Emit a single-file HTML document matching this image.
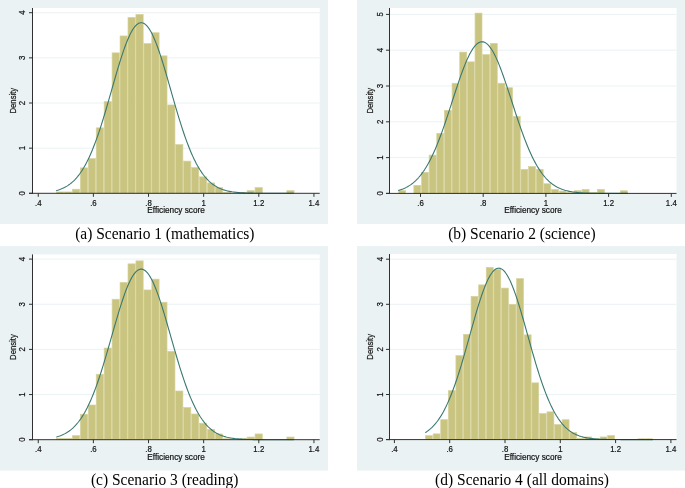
<!DOCTYPE html>
<html><head><meta charset="utf-8"><title>Efficiency score histograms</title>
<style>
html,body{margin:0;padding:0;background:#fff;}
body{width:685px;height:488px;overflow:hidden;}
svg{display:block;}
.tl{font-family:"Liberation Sans",Arial,sans-serif;font-size:8.8px;fill:#111;stroke:#111;stroke-width:0.2px;}
.at{font-family:"Liberation Sans",Arial,sans-serif;font-size:8.25px;fill:#111;stroke:#111;stroke-width:0.2px;}
.cap{font-family:"Liberation Serif","Times New Roman",serif;font-size:15.5px;fill:#000;}
</style></head><body>
<svg width="685" height="488" viewBox="0 0 685 488">
<rect x="0" y="0" width="685" height="488" fill="#fff"/>
<rect x="0" y="0" width="328" height="224" fill="#EAF2F3"/>
<rect x="32.5" y="8" width="287.2" height="185.3" fill="#fff"/>
<line x1="32.5" y1="148.15" x2="319.7" y2="148.15" stroke="#EAF2F3" stroke-width="1"/>
<line x1="32.5" y1="103.00" x2="319.7" y2="103.00" stroke="#EAF2F3" stroke-width="1"/>
<line x1="32.5" y1="57.85" x2="319.7" y2="57.85" stroke="#EAF2F3" stroke-width="1"/>
<line x1="32.5" y1="12.70" x2="319.7" y2="12.70" stroke="#EAF2F3" stroke-width="1"/>
<rect x="56.55" y="191.95" width="7.24" height="1.35" fill="#C9C47F" stroke="#D6D39E" stroke-width="0.7"/>
<rect x="64.49" y="191.95" width="7.24" height="1.35" fill="#C9C47F" stroke="#D6D39E" stroke-width="0.7"/>
<rect x="72.43" y="189.25" width="7.24" height="4.05" fill="#C9C47F" stroke="#D6D39E" stroke-width="0.7"/>
<rect x="80.37" y="167.85" width="7.24" height="25.45" fill="#C9C47F" stroke="#D6D39E" stroke-width="0.7"/>
<rect x="88.31" y="158.60" width="7.24" height="34.70" fill="#C9C47F" stroke="#D6D39E" stroke-width="0.7"/>
<rect x="96.25" y="127.85" width="7.24" height="65.45" fill="#C9C47F" stroke="#D6D39E" stroke-width="0.7"/>
<rect x="104.19" y="101.65" width="7.24" height="91.65" fill="#C9C47F" stroke="#D6D39E" stroke-width="0.7"/>
<rect x="112.13" y="52.85" width="7.24" height="140.45" fill="#C9C47F" stroke="#D6D39E" stroke-width="0.7"/>
<rect x="120.07" y="35.95" width="7.24" height="157.35" fill="#C9C47F" stroke="#D6D39E" stroke-width="0.7"/>
<rect x="128.01" y="17.45" width="7.24" height="175.85" fill="#C9C47F" stroke="#D6D39E" stroke-width="0.7"/>
<rect x="135.95" y="14.45" width="7.24" height="178.85" fill="#C9C47F" stroke="#D6D39E" stroke-width="0.7"/>
<rect x="143.89" y="43.55" width="7.24" height="149.75" fill="#C9C47F" stroke="#D6D39E" stroke-width="0.7"/>
<rect x="151.83" y="32.75" width="7.24" height="160.55" fill="#C9C47F" stroke="#D6D39E" stroke-width="0.7"/>
<rect x="159.77" y="55.85" width="7.24" height="137.45" fill="#C9C47F" stroke="#D6D39E" stroke-width="0.7"/>
<rect x="167.71" y="104.95" width="7.24" height="88.35" fill="#C9C47F" stroke="#D6D39E" stroke-width="0.7"/>
<rect x="175.65" y="144.60" width="7.24" height="48.70" fill="#C9C47F" stroke="#D6D39E" stroke-width="0.7"/>
<rect x="183.59" y="161.10" width="7.24" height="32.20" fill="#C9C47F" stroke="#D6D39E" stroke-width="0.7"/>
<rect x="191.53" y="167.60" width="7.24" height="25.70" fill="#C9C47F" stroke="#D6D39E" stroke-width="0.7"/>
<rect x="199.47" y="176.85" width="7.24" height="16.45" fill="#C9C47F" stroke="#D6D39E" stroke-width="0.7"/>
<rect x="207.41" y="182.95" width="7.24" height="10.35" fill="#C9C47F" stroke="#D6D39E" stroke-width="0.7"/>
<rect x="215.35" y="187.55" width="7.24" height="5.75" fill="#C9C47F" stroke="#D6D39E" stroke-width="0.7"/>
<rect x="223.29" y="192.35" width="7.24" height="0.95" fill="#C9C47F" stroke="#D6D39E" stroke-width="0.7"/>
<rect x="239.17" y="192.35" width="7.24" height="0.95" fill="#C9C47F" stroke="#D6D39E" stroke-width="0.7"/>
<rect x="247.11" y="190.65" width="7.24" height="2.65" fill="#C9C47F" stroke="#D6D39E" stroke-width="0.7"/>
<rect x="255.05" y="187.55" width="7.24" height="5.75" fill="#C9C47F" stroke="#D6D39E" stroke-width="0.7"/>
<rect x="286.81" y="190.65" width="7.24" height="2.65" fill="#C9C47F" stroke="#D6D39E" stroke-width="0.7"/>
<polyline points="56.20,190.61 57.39,190.29 58.58,189.92 59.76,189.52 60.95,189.08 62.14,188.60 63.33,188.07 64.52,187.48 65.70,186.85 66.89,186.15 68.08,185.40 69.27,184.57 70.46,183.68 71.64,182.71 72.83,181.67 74.02,180.54 75.21,179.33 76.40,178.02 77.58,176.62 78.77,175.12 79.96,173.52 81.15,171.81 82.34,170.00 83.52,168.07 84.71,166.02 85.90,163.86 87.09,161.58 88.28,159.17 89.46,156.65 90.65,154.00 91.84,151.22 93.03,148.33 94.22,145.31 95.40,142.17 96.59,138.92 97.78,135.55 98.97,132.07 100.16,128.49 101.34,124.81 102.53,121.04 103.72,117.19 104.91,113.26 106.10,109.26 107.28,105.20 108.47,101.10 109.66,96.97 110.85,92.81 112.04,88.65 113.22,84.49 114.41,80.34 115.60,76.23 116.79,72.16 117.98,68.16 119.16,64.23 120.35,60.40 121.54,56.67 122.73,53.07 123.92,49.61 125.10,46.29 126.29,43.15 127.48,40.19 128.67,37.42 129.86,34.86 131.04,32.52 132.23,30.40 133.42,28.53 134.61,26.91 135.80,25.54 136.98,24.43 138.17,23.60 139.36,23.03 140.55,22.74 141.74,22.73 142.92,22.99 144.11,23.53 145.30,24.34 146.49,25.42 147.68,26.76 148.86,28.36 150.05,30.21 151.24,32.30 152.43,34.62 153.62,37.16 154.80,39.91 155.99,42.85 157.18,45.98 158.37,49.28 159.56,52.73 160.74,56.32 161.93,60.03 163.12,63.85 164.31,67.77 165.50,71.77 166.68,75.83 167.87,79.94 169.06,84.08 170.25,88.24 171.44,92.41 172.62,96.57 173.81,100.70 175.00,104.81 176.19,108.86 177.38,112.87 178.56,116.81 179.75,120.67 180.94,124.45 182.13,128.14 183.32,131.73 184.50,135.21 185.69,138.59 186.88,141.86 188.07,145.01 189.26,148.04 190.44,150.95 191.63,153.73 192.82,156.39 194.01,158.93 195.20,161.35 196.38,163.64 197.57,165.82 198.76,167.87 199.95,169.81 201.14,171.64 202.32,173.36 203.51,174.97 204.70,176.48 205.89,177.89 207.08,179.20 208.26,180.43 209.45,181.56 210.64,182.61 211.83,183.59 213.02,184.49 214.20,185.32 215.39,186.08 216.58,186.78 217.77,187.42 218.96,188.01 220.14,188.55 221.33,189.04 222.52,189.48 223.71,189.89 224.90,190.25 226.08,190.58 227.27,190.88 228.46,191.15 229.65,191.39 230.84,191.61 232.02,191.81 233.21,191.98 234.40,192.14 235.59,192.28 236.78,192.40 237.96,192.51 239.15,192.61 240.34,192.70 241.53,192.77 242.72,192.84 243.90,192.90 245.09,192.95 246.28,193.00 247.47,193.04 248.66,193.08 249.84,193.11 251.03,193.13 252.22,193.16 253.41,193.18 254.60,193.19 255.78,193.21 256.97,193.22 258.16,193.23 259.35,193.24 260.54,193.25 261.72,193.26 262.91,193.27 264.10,193.27 265.29,193.28 266.48,193.28 267.66,193.28 268.85,193.29 270.04,193.29 271.23,193.29 272.42,193.29 273.60,193.29 274.79,193.29 275.98,193.29 277.17,193.30 278.36,193.30 279.54,193.30 280.73,193.30 281.92,193.30 283.11,193.30 284.30,193.30 285.48,193.30 286.67,193.30 287.86,193.30 289.05,193.30 290.24,193.30 291.42,193.30 292.61,193.30 293.80,193.30" fill="none" stroke="#3A7870" stroke-width="1.1" stroke-linejoin="round"/>
<line x1="32.5" y1="8" x2="32.5" y2="193.8" stroke="#303030" stroke-width="1"/>
<line x1="29.0" y1="193.3" x2="319.7" y2="193.3" stroke="#303030" stroke-width="1"/>
<line x1="29.0" y1="193.30" x2="32.5" y2="193.30" stroke="#303030" stroke-width="1"/>
<text transform="translate(25.3 193.30) rotate(-90) scale(0.89 1)" text-anchor="middle" class="tl">0</text>
<line x1="29.0" y1="148.15" x2="32.5" y2="148.15" stroke="#303030" stroke-width="1"/>
<text transform="translate(25.3 148.15) rotate(-90) scale(0.89 1)" text-anchor="middle" class="tl">1</text>
<line x1="29.0" y1="103.00" x2="32.5" y2="103.00" stroke="#303030" stroke-width="1"/>
<text transform="translate(25.3 103.00) rotate(-90) scale(0.89 1)" text-anchor="middle" class="tl">2</text>
<line x1="29.0" y1="57.85" x2="32.5" y2="57.85" stroke="#303030" stroke-width="1"/>
<text transform="translate(25.3 57.85) rotate(-90) scale(0.89 1)" text-anchor="middle" class="tl">3</text>
<line x1="29.0" y1="12.70" x2="32.5" y2="12.70" stroke="#303030" stroke-width="1"/>
<text transform="translate(25.3 12.70) rotate(-90) scale(0.89 1)" text-anchor="middle" class="tl">4</text>
<line x1="38.25" y1="193.3" x2="38.25" y2="196.8" stroke="#303030" stroke-width="1"/>
<text transform="translate(38.25 205.5) scale(0.89 1)" text-anchor="middle" class="tl">.4</text>
<line x1="93.39" y1="193.3" x2="93.39" y2="196.8" stroke="#303030" stroke-width="1"/>
<text transform="translate(93.39 205.5) scale(0.89 1)" text-anchor="middle" class="tl">.6</text>
<line x1="148.53" y1="193.3" x2="148.53" y2="196.8" stroke="#303030" stroke-width="1"/>
<text transform="translate(148.53 205.5) scale(0.89 1)" text-anchor="middle" class="tl">.8</text>
<line x1="203.67" y1="193.3" x2="203.67" y2="196.8" stroke="#303030" stroke-width="1"/>
<text transform="translate(203.67 205.5) scale(0.89 1)" text-anchor="middle" class="tl">1</text>
<line x1="258.81" y1="193.3" x2="258.81" y2="196.8" stroke="#303030" stroke-width="1"/>
<text transform="translate(258.81 205.5) scale(0.89 1)" text-anchor="middle" class="tl">1.2</text>
<line x1="313.95" y1="193.3" x2="313.95" y2="196.8" stroke="#303030" stroke-width="1"/>
<text transform="translate(313.95 205.5) scale(0.89 1)" text-anchor="middle" class="tl">1.4</text>
<text x="176.10" y="213.2" text-anchor="middle" class="at">Efficiency score</text>
<text transform="translate(15.8 100.65) rotate(-90) scale(0.89 1)" text-anchor="middle" class="at" style="font-size:8.7px">Density</text>
<rect x="357" y="0" width="328" height="224" fill="#EAF2F3"/>
<rect x="389.5" y="8" width="287.0" height="185.4" fill="#fff"/>
<line x1="389.5" y1="157.60" x2="676.5" y2="157.60" stroke="#EAF2F3" stroke-width="1"/>
<line x1="389.5" y1="121.80" x2="676.5" y2="121.80" stroke="#EAF2F3" stroke-width="1"/>
<line x1="389.5" y1="86.00" x2="676.5" y2="86.00" stroke="#EAF2F3" stroke-width="1"/>
<line x1="389.5" y1="50.20" x2="676.5" y2="50.20" stroke="#EAF2F3" stroke-width="1"/>
<line x1="389.5" y1="14.40" x2="676.5" y2="14.40" stroke="#EAF2F3" stroke-width="1"/>
<rect x="398.56" y="190.60" width="6.95" height="2.80" fill="#C9C47F" stroke="#D6D39E" stroke-width="0.7"/>
<rect x="413.86" y="185.35" width="6.95" height="8.05" fill="#C9C47F" stroke="#D6D39E" stroke-width="0.7"/>
<rect x="421.50" y="172.35" width="6.95" height="21.05" fill="#C9C47F" stroke="#D6D39E" stroke-width="0.7"/>
<rect x="429.15" y="155.10" width="6.95" height="38.30" fill="#C9C47F" stroke="#D6D39E" stroke-width="0.7"/>
<rect x="436.80" y="133.35" width="6.95" height="60.05" fill="#C9C47F" stroke="#D6D39E" stroke-width="0.7"/>
<rect x="444.45" y="110.35" width="6.95" height="83.05" fill="#C9C47F" stroke="#D6D39E" stroke-width="0.7"/>
<rect x="452.10" y="83.25" width="6.95" height="110.15" fill="#C9C47F" stroke="#D6D39E" stroke-width="0.7"/>
<rect x="459.74" y="52.10" width="6.95" height="141.30" fill="#C9C47F" stroke="#D6D39E" stroke-width="0.7"/>
<rect x="467.39" y="61.85" width="6.95" height="131.55" fill="#C9C47F" stroke="#D6D39E" stroke-width="0.7"/>
<rect x="475.04" y="13.10" width="6.95" height="180.30" fill="#C9C47F" stroke="#D6D39E" stroke-width="0.7"/>
<rect x="482.69" y="54.60" width="6.95" height="138.80" fill="#C9C47F" stroke="#D6D39E" stroke-width="0.7"/>
<rect x="490.34" y="43.35" width="6.95" height="150.05" fill="#C9C47F" stroke="#D6D39E" stroke-width="0.7"/>
<rect x="497.98" y="83.25" width="6.95" height="110.15" fill="#C9C47F" stroke="#D6D39E" stroke-width="0.7"/>
<rect x="505.63" y="87.75" width="6.95" height="105.65" fill="#C9C47F" stroke="#D6D39E" stroke-width="0.7"/>
<rect x="513.28" y="116.45" width="6.95" height="76.95" fill="#C9C47F" stroke="#D6D39E" stroke-width="0.7"/>
<rect x="520.93" y="169.35" width="6.95" height="24.05" fill="#C9C47F" stroke="#D6D39E" stroke-width="0.7"/>
<rect x="528.58" y="166.60" width="6.95" height="26.80" fill="#C9C47F" stroke="#D6D39E" stroke-width="0.7"/>
<rect x="536.22" y="169.35" width="6.95" height="24.05" fill="#C9C47F" stroke="#D6D39E" stroke-width="0.7"/>
<rect x="543.87" y="183.75" width="6.95" height="9.65" fill="#C9C47F" stroke="#D6D39E" stroke-width="0.7"/>
<rect x="551.52" y="189.45" width="6.95" height="3.95" fill="#C9C47F" stroke="#D6D39E" stroke-width="0.7"/>
<rect x="559.17" y="191.05" width="6.95" height="2.35" fill="#C9C47F" stroke="#D6D39E" stroke-width="0.7"/>
<rect x="566.82" y="192.55" width="6.95" height="0.85" fill="#C9C47F" stroke="#D6D39E" stroke-width="0.7"/>
<rect x="574.46" y="190.65" width="6.95" height="2.75" fill="#C9C47F" stroke="#D6D39E" stroke-width="0.7"/>
<rect x="582.11" y="189.45" width="6.95" height="3.95" fill="#C9C47F" stroke="#D6D39E" stroke-width="0.7"/>
<rect x="589.76" y="192.45" width="6.95" height="0.95" fill="#C9C47F" stroke="#D6D39E" stroke-width="0.7"/>
<rect x="597.41" y="189.45" width="6.95" height="3.95" fill="#C9C47F" stroke="#D6D39E" stroke-width="0.7"/>
<rect x="620.35" y="190.75" width="6.95" height="2.65" fill="#C9C47F" stroke="#D6D39E" stroke-width="0.7"/>
<polyline points="398.25,190.48 399.40,190.15 400.55,189.78 401.70,189.38 402.85,188.95 403.99,188.47 405.14,187.95 406.29,187.38 407.44,186.77 408.59,186.10 409.74,185.38 410.89,184.60 412.04,183.76 413.18,182.86 414.33,181.89 415.48,180.84 416.63,179.72 417.78,178.53 418.93,177.25 420.08,175.89 421.23,174.45 422.37,172.91 423.52,171.29 424.67,169.57 425.82,167.75 426.97,165.84 428.12,163.83 429.27,161.71 430.42,159.50 431.56,157.19 432.71,154.78 433.86,152.27 435.01,149.66 436.16,146.95 437.31,144.15 438.46,141.26 439.61,138.27 440.75,135.21 441.90,132.07 443.05,128.85 444.20,125.56 445.35,122.22 446.50,118.82 447.65,115.37 448.80,111.89 449.94,108.37 451.09,104.84 452.24,101.29 453.39,97.75 454.54,94.22 455.69,90.71 456.84,87.23 457.99,83.80 459.13,80.42 460.28,77.12 461.43,73.89 462.58,70.76 463.73,67.74 464.88,64.83 466.03,62.04 467.18,59.40 468.32,56.91 469.47,54.58 470.62,52.41 471.77,50.43 472.92,48.63 474.07,47.03 475.22,45.63 476.37,44.44 477.51,43.46 478.66,42.70 479.81,42.16 480.96,41.84 482.11,41.75 483.26,41.88 484.41,42.24 485.56,42.83 486.70,43.63 487.85,44.65 489.00,45.88 490.15,47.32 491.30,48.96 492.45,50.79 493.60,52.81 494.75,55.00 495.89,57.37 497.04,59.89 498.19,62.56 499.34,65.37 500.49,68.30 501.64,71.35 502.79,74.50 503.94,77.74 505.08,81.06 506.23,84.44 507.38,87.88 508.53,91.37 509.68,94.88 510.83,98.42 511.98,101.96 513.12,105.51 514.27,109.04 515.42,112.55 516.57,116.03 517.72,119.47 518.87,122.86 520.02,126.19 521.17,129.46 522.32,132.67 523.46,135.80 524.61,138.85 525.76,141.81 526.91,144.69 528.06,147.47 529.21,150.16 530.36,152.75 531.50,155.24 532.65,157.64 533.80,159.93 534.95,162.12 536.10,164.21 537.25,166.21 538.40,168.10 539.55,169.90 540.69,171.60 541.84,173.21 542.99,174.73 544.14,176.16 545.29,177.50 546.44,178.76 547.59,179.94 548.74,181.05 549.88,182.08 551.03,183.04 552.18,183.93 553.33,184.76 554.48,185.52 555.63,186.23 556.78,186.89 557.93,187.50 559.08,188.05 560.22,188.56 561.37,189.03 562.52,189.46 563.67,189.85 564.82,190.21 565.97,190.54 567.12,190.83 568.26,191.10 569.41,191.35 570.56,191.57 571.71,191.77 572.86,191.95 574.01,192.11 575.16,192.26 576.31,192.39 577.46,192.50 578.60,192.61 579.75,192.70 580.90,192.78 582.05,192.86 583.20,192.93 584.35,192.98 585.50,193.04 586.64,193.08 587.79,193.12 588.94,193.16 590.09,193.19 591.24,193.22 592.39,193.24 593.54,193.26 594.69,193.28 595.84,193.30 596.98,193.31 598.13,193.32 599.28,193.33 600.43,193.34 601.58,193.35 602.73,193.36 603.88,193.36 605.02,193.37 606.17,193.37 607.32,193.38 608.47,193.38 609.62,193.38 610.77,193.39 611.92,193.39 613.07,193.39 614.22,193.39 615.36,193.39 616.51,193.39 617.66,193.40 618.81,193.40 619.96,193.40 621.11,193.40 622.26,193.40 623.40,193.40 624.55,193.40 625.70,193.40 626.85,193.40 628.00,193.40" fill="none" stroke="#3A7870" stroke-width="1.1" stroke-linejoin="round"/>
<line x1="389.5" y1="8" x2="389.5" y2="193.9" stroke="#303030" stroke-width="1"/>
<line x1="386.0" y1="193.4" x2="676.5" y2="193.4" stroke="#303030" stroke-width="1"/>
<line x1="386.0" y1="193.40" x2="389.5" y2="193.40" stroke="#303030" stroke-width="1"/>
<text transform="translate(382.6 193.40) rotate(-90) scale(0.89 1)" text-anchor="middle" class="tl">0</text>
<line x1="386.0" y1="157.60" x2="389.5" y2="157.60" stroke="#303030" stroke-width="1"/>
<text transform="translate(382.6 157.60) rotate(-90) scale(0.89 1)" text-anchor="middle" class="tl">1</text>
<line x1="386.0" y1="121.80" x2="389.5" y2="121.80" stroke="#303030" stroke-width="1"/>
<text transform="translate(382.6 121.80) rotate(-90) scale(0.89 1)" text-anchor="middle" class="tl">2</text>
<line x1="386.0" y1="86.00" x2="389.5" y2="86.00" stroke="#303030" stroke-width="1"/>
<text transform="translate(382.6 86.00) rotate(-90) scale(0.89 1)" text-anchor="middle" class="tl">3</text>
<line x1="386.0" y1="50.20" x2="389.5" y2="50.20" stroke="#303030" stroke-width="1"/>
<text transform="translate(382.6 50.20) rotate(-90) scale(0.89 1)" text-anchor="middle" class="tl">4</text>
<line x1="386.0" y1="14.40" x2="389.5" y2="14.40" stroke="#303030" stroke-width="1"/>
<text transform="translate(382.6 14.40) rotate(-90) scale(0.89 1)" text-anchor="middle" class="tl">5</text>
<line x1="420.50" y1="193.4" x2="420.50" y2="196.9" stroke="#303030" stroke-width="1"/>
<text transform="translate(420.50 205.5) scale(0.89 1)" text-anchor="middle" class="tl">.6</text>
<line x1="483.20" y1="193.4" x2="483.20" y2="196.9" stroke="#303030" stroke-width="1"/>
<text transform="translate(483.20 205.5) scale(0.89 1)" text-anchor="middle" class="tl">.8</text>
<line x1="545.90" y1="193.4" x2="545.90" y2="196.9" stroke="#303030" stroke-width="1"/>
<text transform="translate(545.90 205.5) scale(0.89 1)" text-anchor="middle" class="tl">1</text>
<line x1="608.60" y1="193.4" x2="608.60" y2="196.9" stroke="#303030" stroke-width="1"/>
<text transform="translate(608.60 205.5) scale(0.89 1)" text-anchor="middle" class="tl">1.2</text>
<line x1="671.30" y1="193.4" x2="671.30" y2="196.9" stroke="#303030" stroke-width="1"/>
<text transform="translate(671.30 205.5) scale(0.89 1)" text-anchor="middle" class="tl">1.4</text>
<text x="533.00" y="213.2" text-anchor="middle" class="at">Efficiency score</text>
<text transform="translate(372.8 100.70) rotate(-90) scale(0.89 1)" text-anchor="middle" class="at" style="font-size:8.7px">Density</text>
<rect x="0" y="246.0" width="328" height="224.5" fill="#EAF2F3"/>
<rect x="32.5" y="254.4" width="287.2" height="185.3" fill="#fff"/>
<line x1="32.5" y1="394.55" x2="319.7" y2="394.55" stroke="#EAF2F3" stroke-width="1"/>
<line x1="32.5" y1="349.40" x2="319.7" y2="349.40" stroke="#EAF2F3" stroke-width="1"/>
<line x1="32.5" y1="304.25" x2="319.7" y2="304.25" stroke="#EAF2F3" stroke-width="1"/>
<line x1="32.5" y1="259.10" x2="319.7" y2="259.10" stroke="#EAF2F3" stroke-width="1"/>
<rect x="56.55" y="438.35" width="7.24" height="1.35" fill="#C9C47F" stroke="#D6D39E" stroke-width="0.7"/>
<rect x="64.49" y="438.35" width="7.24" height="1.35" fill="#C9C47F" stroke="#D6D39E" stroke-width="0.7"/>
<rect x="72.43" y="435.65" width="7.24" height="4.05" fill="#C9C47F" stroke="#D6D39E" stroke-width="0.7"/>
<rect x="80.37" y="414.25" width="7.24" height="25.45" fill="#C9C47F" stroke="#D6D39E" stroke-width="0.7"/>
<rect x="88.31" y="405.00" width="7.24" height="34.70" fill="#C9C47F" stroke="#D6D39E" stroke-width="0.7"/>
<rect x="96.25" y="374.25" width="7.24" height="65.45" fill="#C9C47F" stroke="#D6D39E" stroke-width="0.7"/>
<rect x="104.19" y="348.05" width="7.24" height="91.65" fill="#C9C47F" stroke="#D6D39E" stroke-width="0.7"/>
<rect x="112.13" y="299.25" width="7.24" height="140.45" fill="#C9C47F" stroke="#D6D39E" stroke-width="0.7"/>
<rect x="120.07" y="282.35" width="7.24" height="157.35" fill="#C9C47F" stroke="#D6D39E" stroke-width="0.7"/>
<rect x="128.01" y="263.85" width="7.24" height="175.85" fill="#C9C47F" stroke="#D6D39E" stroke-width="0.7"/>
<rect x="135.95" y="260.85" width="7.24" height="178.85" fill="#C9C47F" stroke="#D6D39E" stroke-width="0.7"/>
<rect x="143.89" y="289.95" width="7.24" height="149.75" fill="#C9C47F" stroke="#D6D39E" stroke-width="0.7"/>
<rect x="151.83" y="279.15" width="7.24" height="160.55" fill="#C9C47F" stroke="#D6D39E" stroke-width="0.7"/>
<rect x="159.77" y="302.25" width="7.24" height="137.45" fill="#C9C47F" stroke="#D6D39E" stroke-width="0.7"/>
<rect x="167.71" y="351.35" width="7.24" height="88.35" fill="#C9C47F" stroke="#D6D39E" stroke-width="0.7"/>
<rect x="175.65" y="391.00" width="7.24" height="48.70" fill="#C9C47F" stroke="#D6D39E" stroke-width="0.7"/>
<rect x="183.59" y="407.50" width="7.24" height="32.20" fill="#C9C47F" stroke="#D6D39E" stroke-width="0.7"/>
<rect x="191.53" y="414.00" width="7.24" height="25.70" fill="#C9C47F" stroke="#D6D39E" stroke-width="0.7"/>
<rect x="199.47" y="423.25" width="7.24" height="16.45" fill="#C9C47F" stroke="#D6D39E" stroke-width="0.7"/>
<rect x="207.41" y="429.35" width="7.24" height="10.35" fill="#C9C47F" stroke="#D6D39E" stroke-width="0.7"/>
<rect x="215.35" y="433.95" width="7.24" height="5.75" fill="#C9C47F" stroke="#D6D39E" stroke-width="0.7"/>
<rect x="223.29" y="438.75" width="7.24" height="0.95" fill="#C9C47F" stroke="#D6D39E" stroke-width="0.7"/>
<rect x="239.17" y="438.75" width="7.24" height="0.95" fill="#C9C47F" stroke="#D6D39E" stroke-width="0.7"/>
<rect x="247.11" y="437.05" width="7.24" height="2.65" fill="#C9C47F" stroke="#D6D39E" stroke-width="0.7"/>
<rect x="255.05" y="433.95" width="7.24" height="5.75" fill="#C9C47F" stroke="#D6D39E" stroke-width="0.7"/>
<rect x="286.81" y="437.05" width="7.24" height="2.65" fill="#C9C47F" stroke="#D6D39E" stroke-width="0.7"/>
<polyline points="56.20,437.01 57.39,436.69 58.58,436.32 59.76,435.92 60.95,435.48 62.14,435.00 63.33,434.47 64.52,433.88 65.70,433.25 66.89,432.55 68.08,431.80 69.27,430.97 70.46,430.08 71.64,429.11 72.83,428.07 74.02,426.94 75.21,425.73 76.40,424.42 77.58,423.02 78.77,421.52 79.96,419.92 81.15,418.21 82.34,416.40 83.52,414.47 84.71,412.42 85.90,410.26 87.09,407.98 88.28,405.57 89.46,403.05 90.65,400.40 91.84,397.62 93.03,394.73 94.22,391.71 95.40,388.57 96.59,385.32 97.78,381.95 98.97,378.47 100.16,374.89 101.34,371.21 102.53,367.44 103.72,363.59 104.91,359.66 106.10,355.66 107.28,351.60 108.47,347.50 109.66,343.37 110.85,339.21 112.04,335.05 113.22,330.89 114.41,326.74 115.60,322.63 116.79,318.56 117.98,314.56 119.16,310.63 120.35,306.80 121.54,303.07 122.73,299.47 123.92,296.01 125.10,292.69 126.29,289.55 127.48,286.59 128.67,283.82 129.86,281.26 131.04,278.92 132.23,276.80 133.42,274.93 134.61,273.31 135.80,271.94 136.98,270.83 138.17,270.00 139.36,269.43 140.55,269.14 141.74,269.13 142.92,269.39 144.11,269.93 145.30,270.74 146.49,271.82 147.68,273.16 148.86,274.76 150.05,276.61 151.24,278.70 152.43,281.02 153.62,283.56 154.80,286.31 155.99,289.25 157.18,292.38 158.37,295.68 159.56,299.13 160.74,302.72 161.93,306.43 163.12,310.25 164.31,314.17 165.50,318.17 166.68,322.23 167.87,326.34 169.06,330.48 170.25,334.64 171.44,338.81 172.62,342.97 173.81,347.10 175.00,351.21 176.19,355.26 177.38,359.27 178.56,363.21 179.75,367.07 180.94,370.85 182.13,374.54 183.32,378.13 184.50,381.61 185.69,384.99 186.88,388.26 188.07,391.41 189.26,394.44 190.44,397.35 191.63,400.13 192.82,402.79 194.01,405.33 195.20,407.75 196.38,410.04 197.57,412.22 198.76,414.27 199.95,416.21 201.14,418.04 202.32,419.76 203.51,421.37 204.70,422.88 205.89,424.29 207.08,425.60 208.26,426.83 209.45,427.96 210.64,429.01 211.83,429.99 213.02,430.89 214.20,431.72 215.39,432.48 216.58,433.18 217.77,433.82 218.96,434.41 220.14,434.95 221.33,435.44 222.52,435.88 223.71,436.29 224.90,436.65 226.08,436.98 227.27,437.28 228.46,437.55 229.65,437.79 230.84,438.01 232.02,438.21 233.21,438.38 234.40,438.54 235.59,438.68 236.78,438.80 237.96,438.91 239.15,439.01 240.34,439.10 241.53,439.17 242.72,439.24 243.90,439.30 245.09,439.35 246.28,439.40 247.47,439.44 248.66,439.48 249.84,439.51 251.03,439.53 252.22,439.56 253.41,439.58 254.60,439.59 255.78,439.61 256.97,439.62 258.16,439.63 259.35,439.64 260.54,439.65 261.72,439.66 262.91,439.67 264.10,439.67 265.29,439.68 266.48,439.68 267.66,439.68 268.85,439.69 270.04,439.69 271.23,439.69 272.42,439.69 273.60,439.69 274.79,439.69 275.98,439.69 277.17,439.70 278.36,439.70 279.54,439.70 280.73,439.70 281.92,439.70 283.11,439.70 284.30,439.70 285.48,439.70 286.67,439.70 287.86,439.70 289.05,439.70 290.24,439.70 291.42,439.70 292.61,439.70 293.80,439.70" fill="none" stroke="#3A7870" stroke-width="1.1" stroke-linejoin="round"/>
<line x1="32.5" y1="254.4" x2="32.5" y2="440.20000000000005" stroke="#303030" stroke-width="1"/>
<line x1="29.0" y1="439.70000000000005" x2="319.7" y2="439.70000000000005" stroke="#303030" stroke-width="1"/>
<line x1="29.0" y1="439.70" x2="32.5" y2="439.70" stroke="#303030" stroke-width="1"/>
<text transform="translate(25.3 439.70) rotate(-90) scale(0.89 1)" text-anchor="middle" class="tl">0</text>
<line x1="29.0" y1="394.55" x2="32.5" y2="394.55" stroke="#303030" stroke-width="1"/>
<text transform="translate(25.3 394.55) rotate(-90) scale(0.89 1)" text-anchor="middle" class="tl">1</text>
<line x1="29.0" y1="349.40" x2="32.5" y2="349.40" stroke="#303030" stroke-width="1"/>
<text transform="translate(25.3 349.40) rotate(-90) scale(0.89 1)" text-anchor="middle" class="tl">2</text>
<line x1="29.0" y1="304.25" x2="32.5" y2="304.25" stroke="#303030" stroke-width="1"/>
<text transform="translate(25.3 304.25) rotate(-90) scale(0.89 1)" text-anchor="middle" class="tl">3</text>
<line x1="29.0" y1="259.10" x2="32.5" y2="259.10" stroke="#303030" stroke-width="1"/>
<text transform="translate(25.3 259.10) rotate(-90) scale(0.89 1)" text-anchor="middle" class="tl">4</text>
<line x1="38.25" y1="439.70000000000005" x2="38.25" y2="443.20000000000005" stroke="#303030" stroke-width="1"/>
<text transform="translate(38.25 451.9) scale(0.89 1)" text-anchor="middle" class="tl">.4</text>
<line x1="93.39" y1="439.70000000000005" x2="93.39" y2="443.20000000000005" stroke="#303030" stroke-width="1"/>
<text transform="translate(93.39 451.9) scale(0.89 1)" text-anchor="middle" class="tl">.6</text>
<line x1="148.53" y1="439.70000000000005" x2="148.53" y2="443.20000000000005" stroke="#303030" stroke-width="1"/>
<text transform="translate(148.53 451.9) scale(0.89 1)" text-anchor="middle" class="tl">.8</text>
<line x1="203.67" y1="439.70000000000005" x2="203.67" y2="443.20000000000005" stroke="#303030" stroke-width="1"/>
<text transform="translate(203.67 451.9) scale(0.89 1)" text-anchor="middle" class="tl">1</text>
<line x1="258.81" y1="439.70000000000005" x2="258.81" y2="443.20000000000005" stroke="#303030" stroke-width="1"/>
<text transform="translate(258.81 451.9) scale(0.89 1)" text-anchor="middle" class="tl">1.2</text>
<line x1="313.95" y1="439.70000000000005" x2="313.95" y2="443.20000000000005" stroke="#303030" stroke-width="1"/>
<text transform="translate(313.95 451.9) scale(0.89 1)" text-anchor="middle" class="tl">1.4</text>
<text x="176.10" y="459.6" text-anchor="middle" class="at">Efficiency score</text>
<text transform="translate(15.8 347.05) rotate(-90) scale(0.89 1)" text-anchor="middle" class="at" style="font-size:8.7px">Density</text>
<rect x="357" y="246" width="328" height="224.5" fill="#EAF2F3"/>
<rect x="389.5" y="254" width="287.0" height="185.60000000000002" fill="#fff"/>
<line x1="389.5" y1="394.50" x2="676.5" y2="394.50" stroke="#EAF2F3" stroke-width="1"/>
<line x1="389.5" y1="349.40" x2="676.5" y2="349.40" stroke="#EAF2F3" stroke-width="1"/>
<line x1="389.5" y1="304.30" x2="676.5" y2="304.30" stroke="#EAF2F3" stroke-width="1"/>
<line x1="389.5" y1="259.20" x2="676.5" y2="259.20" stroke="#EAF2F3" stroke-width="1"/>
<rect x="425.55" y="435.65" width="6.89" height="3.95" fill="#C9C47F" stroke="#D6D39E" stroke-width="0.7"/>
<rect x="433.14" y="433.85" width="6.89" height="5.75" fill="#C9C47F" stroke="#D6D39E" stroke-width="0.7"/>
<rect x="440.73" y="419.65" width="6.89" height="19.95" fill="#C9C47F" stroke="#D6D39E" stroke-width="0.7"/>
<rect x="448.32" y="390.65" width="6.89" height="48.95" fill="#C9C47F" stroke="#D6D39E" stroke-width="0.7"/>
<rect x="455.91" y="355.60" width="6.89" height="84.00" fill="#C9C47F" stroke="#D6D39E" stroke-width="0.7"/>
<rect x="463.50" y="334.35" width="6.89" height="105.25" fill="#C9C47F" stroke="#D6D39E" stroke-width="0.7"/>
<rect x="471.09" y="296.35" width="6.89" height="143.25" fill="#C9C47F" stroke="#D6D39E" stroke-width="0.7"/>
<rect x="478.68" y="284.85" width="6.89" height="154.75" fill="#C9C47F" stroke="#D6D39E" stroke-width="0.7"/>
<rect x="486.27" y="267.35" width="6.89" height="172.25" fill="#C9C47F" stroke="#D6D39E" stroke-width="0.7"/>
<rect x="493.86" y="269.35" width="6.89" height="170.25" fill="#C9C47F" stroke="#D6D39E" stroke-width="0.7"/>
<rect x="501.45" y="288.10" width="6.89" height="151.50" fill="#C9C47F" stroke="#D6D39E" stroke-width="0.7"/>
<rect x="509.04" y="304.35" width="6.89" height="135.25" fill="#C9C47F" stroke="#D6D39E" stroke-width="0.7"/>
<rect x="516.63" y="278.65" width="6.89" height="160.95" fill="#C9C47F" stroke="#D6D39E" stroke-width="0.7"/>
<rect x="524.22" y="334.85" width="6.89" height="104.75" fill="#C9C47F" stroke="#D6D39E" stroke-width="0.7"/>
<rect x="531.81" y="382.85" width="6.89" height="56.75" fill="#C9C47F" stroke="#D6D39E" stroke-width="0.7"/>
<rect x="539.40" y="413.55" width="6.89" height="26.05" fill="#C9C47F" stroke="#D6D39E" stroke-width="0.7"/>
<rect x="546.99" y="411.85" width="6.89" height="27.75" fill="#C9C47F" stroke="#D6D39E" stroke-width="0.7"/>
<rect x="554.58" y="424.55" width="6.89" height="15.05" fill="#C9C47F" stroke="#D6D39E" stroke-width="0.7"/>
<rect x="562.17" y="419.75" width="6.89" height="19.85" fill="#C9C47F" stroke="#D6D39E" stroke-width="0.7"/>
<rect x="569.76" y="432.55" width="6.89" height="7.05" fill="#C9C47F" stroke="#D6D39E" stroke-width="0.7"/>
<rect x="577.35" y="438.55" width="6.89" height="1.05" fill="#C9C47F" stroke="#D6D39E" stroke-width="0.7"/>
<rect x="584.94" y="436.95" width="6.89" height="2.65" fill="#C9C47F" stroke="#D6D39E" stroke-width="0.7"/>
<rect x="592.53" y="438.65" width="6.89" height="0.95" fill="#C9C47F" stroke="#D6D39E" stroke-width="0.7"/>
<rect x="600.12" y="436.95" width="6.89" height="2.65" fill="#C9C47F" stroke="#D6D39E" stroke-width="0.7"/>
<rect x="607.71" y="435.55" width="6.89" height="4.05" fill="#C9C47F" stroke="#D6D39E" stroke-width="0.7"/>
<rect x="638.07" y="438.75" width="6.89" height="0.85" fill="#C9C47F" stroke="#D6D39E" stroke-width="0.7"/>
<rect x="645.66" y="438.75" width="6.89" height="0.85" fill="#C9C47F" stroke="#D6D39E" stroke-width="0.7"/>
<polyline points="425.20,432.65 426.34,431.93 427.48,431.15 428.62,430.30 429.75,429.39 430.89,428.40 432.03,427.33 433.17,426.19 434.31,424.96 435.45,423.64 436.58,422.23 437.72,420.73 438.86,419.12 440.00,417.42 441.14,415.61 442.28,413.69 443.42,411.66 444.55,409.51 445.69,407.26 446.83,404.88 447.97,402.39 449.11,399.79 450.25,397.06 451.39,394.22 452.52,391.26 453.66,388.19 454.80,385.01 455.94,381.72 457.08,378.32 458.22,374.83 459.36,371.24 460.49,367.56 461.63,363.81 462.77,359.98 463.91,356.08 465.05,352.13 466.19,348.13 467.32,344.10 468.46,340.04 469.60,335.96 470.74,331.89 471.88,327.83 473.02,323.79 474.16,319.79 475.29,315.84 476.43,311.96 477.57,308.16 478.71,304.46 479.85,300.86 480.99,297.39 482.12,294.05 483.26,290.86 484.40,287.84 485.54,284.99 486.68,282.33 487.82,279.87 488.96,277.62 490.09,275.59 491.23,273.79 492.37,272.23 493.51,270.92 494.65,269.85 495.79,269.04 496.93,268.49 498.06,268.20 499.20,268.17 500.34,268.41 501.48,268.91 502.62,269.66 503.76,270.68 504.89,271.94 506.03,273.46 507.17,275.21 508.31,277.19 509.45,279.39 510.59,281.81 511.73,284.43 512.86,287.24 514.00,290.23 515.14,293.38 516.28,296.69 517.42,300.14 518.56,303.71 519.70,307.39 520.83,311.18 521.97,315.04 523.11,318.98 524.25,322.97 525.39,327.00 526.53,331.05 527.66,335.13 528.80,339.20 529.94,343.26 531.08,347.31 532.22,351.31 533.36,355.27 534.50,359.18 535.63,363.03 536.77,366.80 537.91,370.49 539.05,374.10 540.19,377.61 541.33,381.03 542.47,384.34 543.60,387.55 544.74,390.64 545.88,393.62 547.02,396.49 548.16,399.24 549.30,401.87 550.43,404.38 551.57,406.78 552.71,409.06 553.85,411.23 554.99,413.28 556.13,415.22 557.27,417.05 558.40,418.78 559.54,420.41 560.68,421.93 561.82,423.36 562.96,424.70 564.10,425.94 565.24,427.11 566.37,428.19 567.51,429.19 568.65,430.12 569.79,430.98 570.93,431.77 572.07,432.50 573.20,433.18 574.34,433.80 575.48,434.36 576.62,434.88 577.76,435.35 578.90,435.79 580.04,436.18 581.17,436.54 582.31,436.86 583.45,437.16 584.59,437.42 585.73,437.66 586.87,437.88 588.01,438.07 589.14,438.25 590.28,438.40 591.42,438.54 592.56,438.67 593.70,438.78 594.84,438.88 595.98,438.97 597.11,439.04 598.25,439.11 599.39,439.18 600.53,439.23 601.67,439.28 602.81,439.32 603.94,439.36 605.08,439.39 606.22,439.42 607.36,439.44 608.50,439.46 609.64,439.48 610.78,439.50 611.91,439.51 613.05,439.53 614.19,439.54 615.33,439.55 616.47,439.55 617.61,439.56 618.75,439.57 619.88,439.57 621.02,439.58 622.16,439.58 623.30,439.58 624.44,439.59 625.58,439.59 626.71,439.59 627.85,439.59 628.99,439.59 630.13,439.59 631.27,439.59 632.41,439.60 633.55,439.60 634.68,439.60 635.82,439.60 636.96,439.60 638.10,439.60 639.24,439.60 640.38,439.60 641.51,439.60 642.65,439.60 643.79,439.60 644.93,439.60 646.07,439.60 647.21,439.60 648.35,439.60 649.48,439.60 650.62,439.60 651.76,439.60 652.90,439.60" fill="none" stroke="#3A7870" stroke-width="1.1" stroke-linejoin="round"/>
<line x1="389.5" y1="254" x2="389.5" y2="440.1" stroke="#303030" stroke-width="1"/>
<line x1="386.0" y1="439.6" x2="676.5" y2="439.6" stroke="#303030" stroke-width="1"/>
<line x1="386.0" y1="439.60" x2="389.5" y2="439.60" stroke="#303030" stroke-width="1"/>
<text transform="translate(382.6 439.60) rotate(-90) scale(0.89 1)" text-anchor="middle" class="tl">0</text>
<line x1="386.0" y1="394.50" x2="389.5" y2="394.50" stroke="#303030" stroke-width="1"/>
<text transform="translate(382.6 394.50) rotate(-90) scale(0.89 1)" text-anchor="middle" class="tl">1</text>
<line x1="386.0" y1="349.40" x2="389.5" y2="349.40" stroke="#303030" stroke-width="1"/>
<text transform="translate(382.6 349.40) rotate(-90) scale(0.89 1)" text-anchor="middle" class="tl">2</text>
<line x1="386.0" y1="304.30" x2="389.5" y2="304.30" stroke="#303030" stroke-width="1"/>
<text transform="translate(382.6 304.30) rotate(-90) scale(0.89 1)" text-anchor="middle" class="tl">3</text>
<line x1="386.0" y1="259.20" x2="389.5" y2="259.20" stroke="#303030" stroke-width="1"/>
<text transform="translate(382.6 259.20) rotate(-90) scale(0.89 1)" text-anchor="middle" class="tl">4</text>
<line x1="394.40" y1="439.6" x2="394.40" y2="443.1" stroke="#303030" stroke-width="1"/>
<text transform="translate(394.40 452.0) scale(0.89 1)" text-anchor="middle" class="tl">.4</text>
<line x1="449.70" y1="439.6" x2="449.70" y2="443.1" stroke="#303030" stroke-width="1"/>
<text transform="translate(449.70 452.0) scale(0.89 1)" text-anchor="middle" class="tl">.6</text>
<line x1="505.00" y1="439.6" x2="505.00" y2="443.1" stroke="#303030" stroke-width="1"/>
<text transform="translate(505.00 452.0) scale(0.89 1)" text-anchor="middle" class="tl">.8</text>
<line x1="560.30" y1="439.6" x2="560.30" y2="443.1" stroke="#303030" stroke-width="1"/>
<text transform="translate(560.30 452.0) scale(0.89 1)" text-anchor="middle" class="tl">1</text>
<line x1="615.60" y1="439.6" x2="615.60" y2="443.1" stroke="#303030" stroke-width="1"/>
<text transform="translate(615.60 452.0) scale(0.89 1)" text-anchor="middle" class="tl">1.2</text>
<line x1="670.90" y1="439.6" x2="670.90" y2="443.1" stroke="#303030" stroke-width="1"/>
<text transform="translate(670.90 452.0) scale(0.89 1)" text-anchor="middle" class="tl">1.4</text>
<text x="533.00" y="459.7" text-anchor="middle" class="at">Efficiency score</text>
<text transform="translate(372.8 346.80) rotate(-90) scale(0.89 1)" text-anchor="middle" class="at" style="font-size:8.7px">Density</text>
<text transform="translate(164.8 238.5) scale(1 1.065)" text-anchor="middle" class="cap">(a) Scenario 1 (mathematics)</text>
<text transform="translate(521.9 238.5) scale(1 1.065)" text-anchor="middle" class="cap">(b) Scenario 2 (science)</text>
<text transform="translate(164.7 484.7) scale(1 1.065)" text-anchor="middle" class="cap">(c) Scenario 3 (reading)</text>
<text transform="translate(522 484.7) scale(1 1.065)" text-anchor="middle" class="cap">(d) Scenario 4 (all domains)</text>
</svg>
</body></html>
